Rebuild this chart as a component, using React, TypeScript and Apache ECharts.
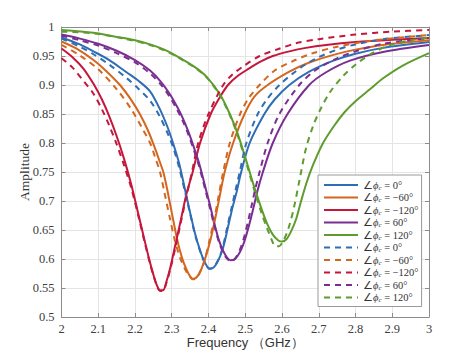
import React, { useEffect, useRef } from "react";
import * as echarts from "echarts";

const phaseLabels = ["0°", "−60°", "−120°", "60°", "120°"];
const colors = ["#2F6DB5", "#D4661F", "#C4173B", "#7A2E91", "#5E9C2E"];
const xTicks = [2, 2.1, 2.2, 2.3, 2.4, 2.5, 2.6, 2.7, 2.8, 2.9, 3];
const yTicks = [0.5, 0.55, 0.6, 0.65, 0.7, 0.75, 0.8, 0.85, 0.9, 0.95, 1];

// solid curves
const solid0: number[][] = [[2.0,0.982],[2.05,0.97],[2.087,0.958],[2.13,0.943],[2.177,0.922],[2.21,0.907],[2.241,0.889],[2.268,0.858],[2.29,0.825],[2.305,0.797],[2.32,0.765],[2.336,0.72],[2.35,0.68],[2.363,0.645],[2.377,0.615],[2.39,0.594],[2.404,0.583],[2.415,0.586],[2.427,0.598],[2.44,0.62],[2.452,0.652],[2.465,0.688],[2.477,0.717],[2.489,0.75],[2.512,0.8],[2.552,0.85],[2.58,0.875],[2.62,0.9],[2.674,0.923],[2.74,0.942],[2.8,0.954],[2.875,0.964],[3.0,0.974]];
const solidM60: number[][] = [[2.0,0.975],[2.04,0.963],[2.087,0.943],[2.12,0.925],[2.159,0.9],[2.19,0.874],[2.215,0.848],[2.235,0.822],[2.252,0.795],[2.265,0.772],[2.277,0.75],[2.287,0.722],[2.3,0.68],[2.315,0.633],[2.328,0.602],[2.34,0.582],[2.35,0.57],[2.357,0.566],[2.365,0.567],[2.375,0.575],[2.388,0.595],[2.405,0.632],[2.42,0.675],[2.431,0.71],[2.444,0.75],[2.467,0.8],[2.498,0.85],[2.525,0.88],[2.561,0.9],[2.62,0.923],[2.671,0.938],[2.74,0.952],[2.8,0.961],[2.875,0.969],[3.0,0.977]];
const solidM120: number[][] = [[2.0,0.963],[2.03,0.948],[2.06,0.928],[2.087,0.902],[2.11,0.875],[2.13,0.846],[2.15,0.812],[2.17,0.773],[2.19,0.728],[2.21,0.675],[2.225,0.635],[2.24,0.596],[2.25,0.573],[2.26,0.554],[2.268,0.546],[2.276,0.546],[2.286,0.562],[2.296,0.585],[2.31,0.625],[2.325,0.668],[2.34,0.712],[2.357,0.75],[2.377,0.8],[2.406,0.85],[2.43,0.878],[2.453,0.9],[2.48,0.916],[2.512,0.929],[2.54,0.94],[2.575,0.95],[2.62,0.958],[2.665,0.964],[2.72,0.969],[2.8,0.974],[2.9,0.978],[3.0,0.981]];
const solid60: number[][] = [[2.0,0.987],[2.05,0.98],[2.1,0.971],[2.15,0.959],[2.2,0.943],[2.241,0.925],[2.27,0.906],[2.295,0.884],[2.315,0.862],[2.33,0.843],[2.345,0.82],[2.36,0.793],[2.372,0.77],[2.383,0.745],[2.393,0.72],[2.404,0.693],[2.416,0.661],[2.428,0.633],[2.44,0.614],[2.45,0.603],[2.46,0.598],[2.47,0.599],[2.48,0.606],[2.49,0.618],[2.5,0.635],[2.512,0.662],[2.523,0.69],[2.533,0.717],[2.548,0.75],[2.575,0.8],[2.615,0.85],[2.674,0.9],[2.72,0.922],[2.785,0.942],[2.875,0.957],[3.0,0.969]];
const solid120: number[][] = [[2.0,0.995],[2.087,0.99],[2.15,0.983],[2.2,0.977],[2.241,0.97],[2.29,0.958],[2.332,0.943],[2.365,0.93],[2.395,0.914],[2.431,0.884],[2.458,0.85],[2.48,0.815],[2.503,0.769],[2.525,0.723],[2.545,0.685],[2.56,0.66],[2.575,0.642],[2.59,0.632],[2.6,0.63],[2.612,0.634],[2.625,0.648],[2.638,0.668],[2.652,0.7],[2.667,0.732],[2.685,0.763],[2.71,0.798],[2.74,0.828],[2.77,0.853],[2.8,0.872],[2.84,0.893],[2.876,0.912],[2.93,0.934],[3.0,0.955]];

// dashed curves
const dashed0: number[][] = [[2.0,0.98],[2.05,0.966],[2.087,0.953],[2.13,0.935],[2.177,0.912],[2.21,0.893],[2.241,0.873],[2.268,0.845],[2.29,0.815],[2.305,0.79],[2.32,0.758],[2.336,0.716],[2.35,0.678],[2.363,0.643],[2.377,0.614],[2.39,0.593],[2.403,0.583],[2.414,0.586],[2.426,0.598],[2.438,0.618],[2.45,0.652],[2.462,0.686],[2.473,0.717],[2.485,0.75],[2.503,0.8],[2.534,0.85],[2.56,0.876],[2.593,0.9],[2.63,0.92],[2.665,0.936],[2.7,0.948],[2.75,0.961],[2.8,0.97],[2.875,0.979],[3.0,0.986]];
const dashedM60: number[][] = [[2.0,0.969],[2.05,0.951],[2.1,0.927],[2.15,0.893],[2.19,0.858],[2.22,0.825],[2.241,0.8],[2.255,0.775],[2.268,0.75],[2.28,0.715],[2.295,0.67],[2.31,0.628],[2.325,0.598],[2.34,0.578],[2.35,0.569],[2.357,0.565],[2.365,0.566],[2.375,0.575],[2.388,0.595],[2.402,0.63],[2.417,0.673],[2.428,0.71],[2.44,0.75],[2.458,0.8],[2.486,0.85],[2.51,0.878],[2.539,0.9],[2.58,0.925],[2.629,0.941],[2.68,0.954],[2.75,0.966],[2.85,0.977],[3.0,0.986]];
const dashedM120: number[][] = [[2.0,0.946],[2.03,0.93],[2.06,0.907],[2.087,0.885],[2.11,0.858],[2.13,0.83],[2.15,0.798],[2.17,0.762],[2.19,0.722],[2.21,0.672],[2.225,0.632],[2.24,0.594],[2.25,0.572],[2.26,0.553],[2.268,0.545],[2.276,0.545],[2.286,0.56],[2.296,0.582],[2.31,0.62],[2.325,0.664],[2.34,0.708],[2.355,0.75],[2.372,0.8],[2.4,0.85],[2.44,0.9],[2.465,0.918],[2.494,0.932],[2.539,0.95],[2.59,0.962],[2.638,0.972],[2.7,0.979],[2.8,0.987],[2.9,0.992],[3.0,0.995]];
const dashed60: number[][] = [[2.0,0.985],[2.05,0.977],[2.1,0.968],[2.15,0.955],[2.2,0.939],[2.241,0.92],[2.27,0.901],[2.295,0.879],[2.315,0.857],[2.33,0.838],[2.345,0.815],[2.36,0.788],[2.372,0.765],[2.383,0.74],[2.393,0.715],[2.404,0.688],[2.416,0.657],[2.428,0.63],[2.44,0.611],[2.45,0.601],[2.458,0.597],[2.468,0.598],[2.478,0.606],[2.488,0.62],[2.498,0.64],[2.508,0.666],[2.518,0.694],[2.527,0.72],[2.539,0.75],[2.561,0.8],[2.593,0.85],[2.647,0.9],[2.69,0.925],[2.75,0.946],[2.8,0.958],[2.875,0.971],[3.0,0.981]];
const dashed120: number[][] = [[2.0,0.992],[2.087,0.989],[2.177,0.979],[2.241,0.969],[2.29,0.957],[2.332,0.942],[2.365,0.929],[2.395,0.913],[2.431,0.882],[2.458,0.848],[2.48,0.812],[2.503,0.765],[2.525,0.718],[2.545,0.678],[2.56,0.652],[2.572,0.633],[2.582,0.622],[2.592,0.622],[2.602,0.63],[2.612,0.643],[2.622,0.662],[2.633,0.69],[2.647,0.734],[2.665,0.79],[2.685,0.83],[2.703,0.856],[2.73,0.887],[2.767,0.916],[2.8,0.935],[2.84,0.953],[2.894,0.969],[2.95,0.977],[3.0,0.982]];

const solidData = [solid0, solidM60, solidM120, solid60, solid120];
const dashedData = [dashed0, dashedM60, dashedM120, dashed60, dashed120];

const serif = "Liberation Serif";

export default function App() {
  const ref = useRef<HTMLDivElement>(null);
  useEffect(() => {
    if (!ref.current) return;
    const chart = echarts.init(ref.current, undefined, { renderer: "svg" });
    const nameToLabel: Record<string, string> = {};
    const series: any[] = [];
    const legendNames: string[] = [];
    solidData.forEach((d, i) => {
      const name = "s" + i;
      nameToLabel[name] = phaseLabels[i];
      legendNames.push(name);
      series.push({
        name, type: "line", data: d, smooth: 0.3, symbol: "none", showSymbol: false,
        lineStyle: { color: colors[i], width: 2, type: "solid" },
        itemStyle: { color: colors[i] }, z: 2,
      });
    });
    dashedData.forEach((d, i) => {
      const name = "d" + i;
      nameToLabel[name] = phaseLabels[i];
      legendNames.push(name);
      series.push({
        name, type: "line", data: d, smooth: 0.3, symbol: "none", showSymbol: false,
        lineStyle: { color: colors[i], width: 2, type: [6, 5] },
        itemStyle: { color: colors[i] }, z: 3,
      });
    });
    const axisCol = "#8c8c8c";
    const gridCol = "#e4e4e4";
    const txt = "#333";
    chart.setOption({
      animation: false,
      backgroundColor: "#ffffff",
      grid: { left: 61.5, right: 45, top: 27, bottom: 38, containLabel: false, outerBoundsMode: "none" },
      legend: {
        data: legendNames,
        orient: "vertical",
        left: 318,
        top: 175,
        padding: [4, 3, 3, 5],
        itemGap: 0.5,
        itemWidth: 34,
        itemHeight: 9,
        itemStyle: { opacity: 0, borderWidth: 0 },
        backgroundColor: "#ffffff",
        borderColor: "#9a9a9a",
        borderWidth: 1,
        borderRadius: 0,
        selectedMode: false,
        formatter: (name: string) => `{a|∠}{i|ϕ}{s|c}{a| = ${nameToLabel[name]}}`,
        textStyle: {
          fontFamily: serif, fontSize: 10.5, color: txt, lineHeight: 9,
          rich: {
            a: { fontFamily: serif, fontSize: 10.5, color: txt, lineHeight: 9 },
            i: { fontFamily: serif, fontSize: 10.5, fontStyle: "italic", color: txt, lineHeight: 9 },
            s: { fontFamily: serif, fontSize: 7, fontStyle: "italic", color: txt, lineHeight: 5, padding: [5, 0, 0, 0] },
          },
        },
      },
      xAxis: [
        {
          type: "value", min: xTicks[0], max: xTicks[xTicks.length - 1], interval: 0.1,
          name: "Frequency （GHz）", nameLocation: "middle", nameGap: 19, nameMoveOverlap: false,
          nameTextStyle: { fontFamily: "Liberation Sans", fontSize: 13, color: txt },
          axisLine: { show: true, onZero: false, lineStyle: { color: axisCol, width: 1 } },
          axisTick: { show: true, inside: true, length: 4, lineStyle: { color: axisCol } },
          axisLabel: { fontFamily: serif, fontSize: 12.5, color: "#404040", margin: 5 },
          splitLine: { show: true, lineStyle: { color: gridCol, width: 1 } },
        },
        {
          type: "value", position: "top", min: xTicks[0], max: xTicks[xTicks.length - 1], interval: 0.1,
          axisLine: { show: true, onZero: false, lineStyle: { color: axisCol, width: 1 } },
          axisTick: { show: true, inside: true, length: 4, lineStyle: { color: axisCol } },
          axisLabel: { show: false }, splitLine: { show: false },
        },
      ],
      yAxis: [
        {
          type: "value", min: yTicks[0], max: yTicks[yTicks.length - 1], interval: 0.05,
          name: "Amplitude", nameLocation: "middle", nameGap: 30, nameMoveOverlap: false,
          nameTextStyle: { fontFamily: serif, fontSize: 13.5, color: txt },
          axisLine: { show: true, onZero: false, lineStyle: { color: axisCol, width: 1 } },
          axisTick: { show: true, inside: true, length: 4, lineStyle: { color: axisCol } },
          axisLabel: { fontFamily: serif, fontSize: 12.5, color: "#404040", margin: 7 },
          splitLine: { show: true, lineStyle: { color: gridCol, width: 1 } },
        },
        {
          type: "value", position: "right", min: yTicks[0], max: yTicks[yTicks.length - 1], interval: 0.05,
          axisLine: { show: true, onZero: false, lineStyle: { color: axisCol, width: 1 } },
          axisTick: { show: true, inside: true, length: 4, lineStyle: { color: axisCol } },
          axisLabel: { show: false }, splitLine: { show: false },
        },
      ],
      series,
    });
    return () => chart.dispose();
  }, []);
  return (
    <div
      ref={ref}
      style={{ position: "absolute", left: 0, top: 0, width: 474, height: 355 }}
    />
  );
}
